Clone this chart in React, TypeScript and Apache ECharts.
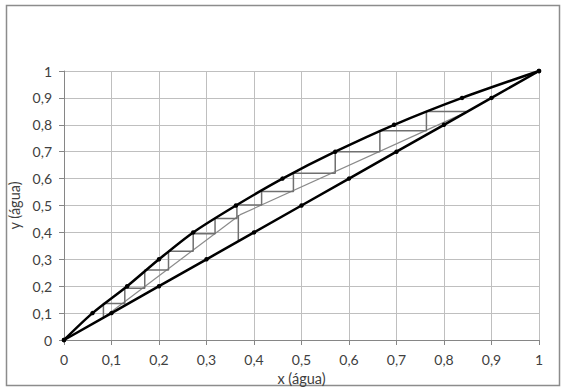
import React, { useEffect, useRef } from "react";
import * as echarts from "echarts";

// Equilibrium curve (x, y)
const eqX = [0, 0.06, 0.133, 0.2, 0.272, 0.362, 0.46, 0.571, 0.695, 0.838, 1];
const eqY = [0, 0.1, 0.2, 0.3, 0.4, 0.5, 0.6, 0.7, 0.8, 0.9, 1];
// Diagonal y = x
const diagX = [0, 0.1, 0.2, 0.3, 0.4, 0.5, 0.6, 0.7, 0.8, 0.9, 1];
const diagY = [0, 0.1, 0.2, 0.3, 0.4, 0.5, 0.6, 0.7, 0.8, 0.9, 1];
// Operating lines
const rectX = [0.847, 0.37];
const rectY = [0.847, 0.465];
const stripX = [0.37, 0.083];
const stripY = [0.465, 0.083];
// Feed (q) line
const qX = [0.367, 0.367];
const qY = [0.37, 0.465];
// Staircase
const stepX = [0.847, 0.763, 0.763, 0.665, 0.665, 0.571, 0.571, 0.483, 0.483, 0.416, 0.416, 0.364, 0.364, 0.318, 0.318, 0.272, 0.272, 0.22, 0.22, 0.17, 0.17, 0.128, 0.128, 0.083, 0.083];
const stepY = [0.849, 0.849, 0.778, 0.778, 0.7, 0.7, 0.62, 0.62, 0.552, 0.552, 0.502, 0.502, 0.452, 0.452, 0.395, 0.395, 0.33, 0.33, 0.26, 0.26, 0.192, 0.192, 0.136, 0.136, 0.083];

const zip = (xs: number[], ys: number[]) => xs.map((x, i) => [x, ys[i]]);
const fmt = (v: number) => String(Math.round(v * 10) / 10).replace(".", ",");
const FONT = "Lato";

export default function App() {
  const ref = useRef<HTMLDivElement>(null);
  useEffect(() => {
    document.body.style.margin = "0";
    const chart = echarts.init(ref.current!, null, { renderer: "svg" });
    const axisCommon = {
      type: "value" as const,
      min: 0,
      max: 1,
      interval: 0.1,
      axisLine: { show: true, lineStyle: { color: "#868686", width: 1 } },
      axisTick: { show: true, length: 5, lineStyle: { color: "#868686" } },
      splitLine: { show: true, lineStyle: { color: "#bfbfbf", width: 1 } },
      axisLabel: { formatter: fmt, color: "#404040", fontSize: 14, fontFamily: FONT },
      nameLocation: "middle" as const,
      nameTextStyle: { color: "#404040", fontSize: 14.5, fontFamily: FONT },
    };
    chart.setOption({
      animation: false,
      backgroundColor: "#ffffff",
      graphic: [
        {
          type: "rect",
          shape: { x: 6.5, y: 5.5, width: 553, height: 380 },
          style: { fill: "none", stroke: "#8c8c8c", lineWidth: 1.5 },
          z: -1,
        },
      ],
      grid: { left: 64, right: 27, top: 71, bottom: 52, containLabel: false, outerBoundsMode: "none" },
      xAxis: { ...axisCommon, name: "x (água)", nameGap: 29, axisLabel: { ...axisCommon.axisLabel, margin: 12 } },
      yAxis: { ...axisCommon, name: "y (água)", nameGap: 38, axisLabel: { ...axisCommon.axisLabel, margin: 12 } },
      series: [
        {
          type: "line",
          data: zip(rectX, rectY),
          symbol: "none",
          lineStyle: { color: "#8a8a8a", width: 1.2 },
          z: 3,
        },
        {
          type: "line",
          data: zip(stripX, stripY),
          symbol: "none",
          lineStyle: { color: "#8a8a8a", width: 1.2 },
          z: 3,
        },
        {
          type: "line",
          data: zip(qX, qY),
          symbol: "none",
          lineStyle: { color: "#707070", width: 1.5 },
          z: 3,
        },
        {
          type: "line",
          data: zip(stepX, stepY),
          symbol: "none",
          lineStyle: { color: "#707070", width: 1.5 },
          z: 4,
        },
        {
          type: "line",
          data: zip(diagX, diagY),
          symbol: "circle",
          symbolSize: 4.5,
          itemStyle: { color: "#000" },
          lineStyle: { color: "#000", width: 2.5 },
          z: 5,
        },
        {
          type: "line",
          data: zip(eqX, eqY),
          smooth: 0.3,
          symbol: "circle",
          symbolSize: 4.5,
          itemStyle: { color: "#000" },
          lineStyle: { color: "#000", width: 2.5 },
          z: 6,
        },
      ],
    });
    return () => chart.dispose();
  }, []);
  return <div ref={ref} style={{ width: 566, height: 392 }} />;
}
